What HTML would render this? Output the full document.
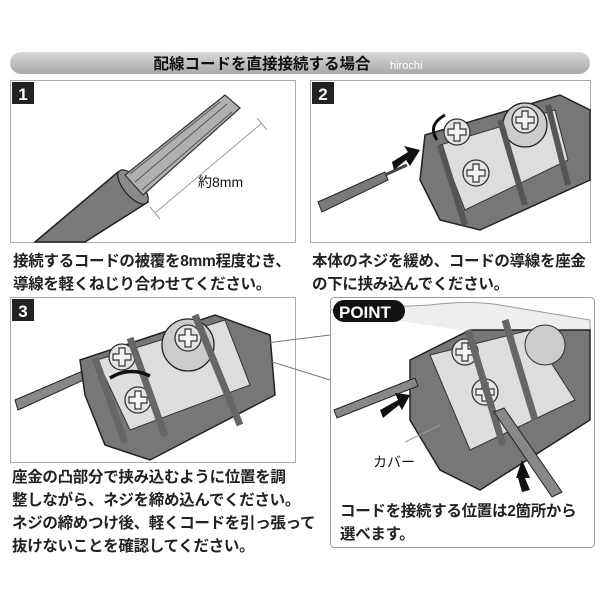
<!DOCTYPE html>
<html><head><meta charset="utf-8"><style>
*{margin:0;padding:0}
body{width:600px;height:600px;background:#fff;position:relative;overflow:hidden;font-family:"Liberation Sans","Noto Sans CJK JP",sans-serif;}
.t{position:absolute;font-size:15.5px;font-weight:bold;color:#222;line-height:23px;white-space:nowrap;letter-spacing:-0.3px}
</style></head><body>
<svg width="600" height="600" style="position:absolute;left:0;top:0">
<defs>
<linearGradient id="hg" x1="0" y1="0" x2="0" y2="1"><stop offset="0" stop-color="#d8d8d8"/><stop offset="1" stop-color="#a8a8a8"/></linearGradient>
<g id="scr"><circle r="13" fill="#e4e4e4" stroke="#333" stroke-width="1.3"/><path d="M-3,-9h6v6h6v6h-6v6h-6v-6h-6v-6h6z" fill="#f4f4f4" stroke="#333" stroke-width="1.2"/></g>
</defs>
<rect x="10" y="52" width="580" height="22" rx="11" fill="url(#hg)"/>
<text x="262" y="69" text-anchor="middle" font-size="15.5" font-weight="bold" fill="#111" font-family="Liberation Sans,Noto Sans CJK JP,sans-serif">配線コードを直接接続する場合</text>
<text x="390" y="69" font-size="11" fill="#fff" font-family="Liberation Sans,sans-serif">hirochi</text>
<rect x="10.5" y="80.5" width="285" height="162" fill="#fff" stroke="#aaa"/>
<rect x="310.5" y="80.5" width="280" height="162" fill="#fff" stroke="#aaa"/>
<rect x="10.5" y="297.5" width="285" height="165" fill="#fff" stroke="#aaa"/>
<rect x="330.5" y="297.5" width="264" height="250" rx="4" fill="#fff" stroke="#999"/>
<rect x="12" y="82" width="22" height="22" fill="#222"/><text x="23" y="100" text-anchor="middle" fill="#fff" font-size="17" font-weight="bold">1</text>
<rect x="312" y="82" width="22" height="22" fill="#222"/><text x="323" y="100" text-anchor="middle" fill="#fff" font-size="17" font-weight="bold">2</text>
<rect x="12" y="299" width="22" height="22" fill="#222"/><text x="23" y="317" text-anchor="middle" fill="#fff" font-size="17" font-weight="bold">3</text>
<polygon points="35,242 118,172 148,202 85,242" fill="#7a7a7a" stroke="#222" stroke-width="1.5"/>
<ellipse cx="133" cy="187" rx="9" ry="21" transform="rotate(-40 133 187)" fill="#8a8a8a" stroke="#222" stroke-width="1.2"/>
<polygon points="125,175 225,95 240,108 143,195" fill="#b0b0b0" stroke="#333" stroke-width="1.2"/>
<path d="M135,182l92-78M130,174l90-72M142,190l90-78" stroke="#555" stroke-width="1" fill="none"/>
<path d="M155,213 L262,123 M150,207l10,12 M257,118l10,12" stroke="#999" fill="none"/>
<text x="198" y="187" font-size="14" fill="#111">約8mm</text>
<polygon points="318,202 385,172 388,180 322,212" fill="#7a7a7a" stroke="#222"/>
<path d="M385,175l22-10" stroke="#444" stroke-width="3"/>
<polygon points="392,162 408,152 404,146 420,150 410,166 406,160 394,170" fill="#111"/>
<polygon points="425,135 560,95 590,110 590,180 480,230 440,220 420,180" fill="#777" stroke="#222" stroke-width="1.5"/>
<polygon points="440,145 555,110 568,160 465,210" fill="#ddd" stroke="#333"/>
<use href="#scr" x="457" y="132"/><use href="#scr" x="476" y="173"/>
<circle cx="525" cy="125" r="22" fill="#ccc" stroke="#222" stroke-width="1.3"/><use href="#scr" x="525" y="120"/>
<path d="M440,145l25,80M500,120l25,85M548,105l20,80" stroke="#555" stroke-width="6" fill="none"/>
<path d="M445,115 q-18,10 -8,25" stroke="#111" stroke-width="3" fill="none"/>
<polygon points="15,400 85,370 88,378 18,410" fill="#888" stroke="#222"/>
<polygon points="80,360 215,315 270,335 275,395 150,460 105,445 85,395" fill="#777" stroke="#222" stroke-width="1.5"/>
<polygon points="97,360 225,320 250,385 130,430" fill="#ddd" stroke="#333"/>
<use href="#scr" x="122" y="357"/><use href="#scr" x="138" y="400"/>
<circle cx="188" cy="345" r="26" fill="#ccc" stroke="#222" stroke-width="1.3"/><use href="#scr" x="188" y="338"/>
<path d="M95,358l30,85M130,338l35,98M195,315l45,110" stroke="#666" stroke-width="7" fill="none"/>
<path d="M110,378 q20,-12 40,-2" stroke="#111" stroke-width="3.5" fill="none"/>
<path d="M250,345 L330,335 M250,355 L330,380" stroke="#777" fill="none"/>
<path d="M330,310 L430,305 Q470,300 500,305 L590,320 L590,350" fill="#eee" stroke="#999"/>
<polygon points="410,360 470,330 590,330 590,420 480,490 440,470 410,420" fill="#777" stroke="#222" stroke-width="1.5"/>
<polygon points="430,355 530,330 575,400 470,450" fill="#ddd" stroke="#333"/>
<use href="#scr" x="465" y="352"/><use href="#scr" x="485" y="392"/>
<circle cx="545" cy="345" r="20" fill="#ccc" stroke="#333"/>
<path d="M468,330l35,115M505,320l30,100" stroke="#666" stroke-width="7" fill="none"/>
<polygon points="334,410 415,378 418,386 337,418" fill="#888" stroke="#222"/>
<polygon points="494,412 504,408 562,492 552,497" fill="#888" stroke="#222"/>
<polygon points="380,410 398,400 395,393 410,395 402,410 399,405 383,418" fill="#111"/>
<polygon points="516,478 522,460 530,478 525,478 530,490 522,492 518,478" fill="#111"/>
<path d="M405,442 L440,425" stroke="#999" fill="none"/>
<text x="373" y="467" font-size="14" fill="#111">カバー</text>
<rect x="333" y="300" width="72" height="22" rx="11" fill="#111"/>
<text x="339" y="318" font-size="17" font-weight="bold" fill="#fff" font-family="Liberation Sans,sans-serif">POINT</text>
</svg>
<div class="t" style="left:13px;top:250px">接続するコードの被覆を8mm程度むき、<br>導線を軽くねじり合わせてください。</div>
<div class="t" style="left:312px;top:250px">本体のネジを緩め、コードの導線を座金<br>の下に挟み込んでください。</div>
<div class="t" style="left:12px;top:466px">座金の凸部分で挟み込むように位置を調<br>整しながら、ネジを締め込んでください。<br>ネジの締めつけ後、軽くコードを引っ張って<br>抜けないことを確認してください。</div>
<div class="t" style="left:340px;top:500px">コードを接続する位置は2箇所から<br>選べます。</div>
</body></html>
